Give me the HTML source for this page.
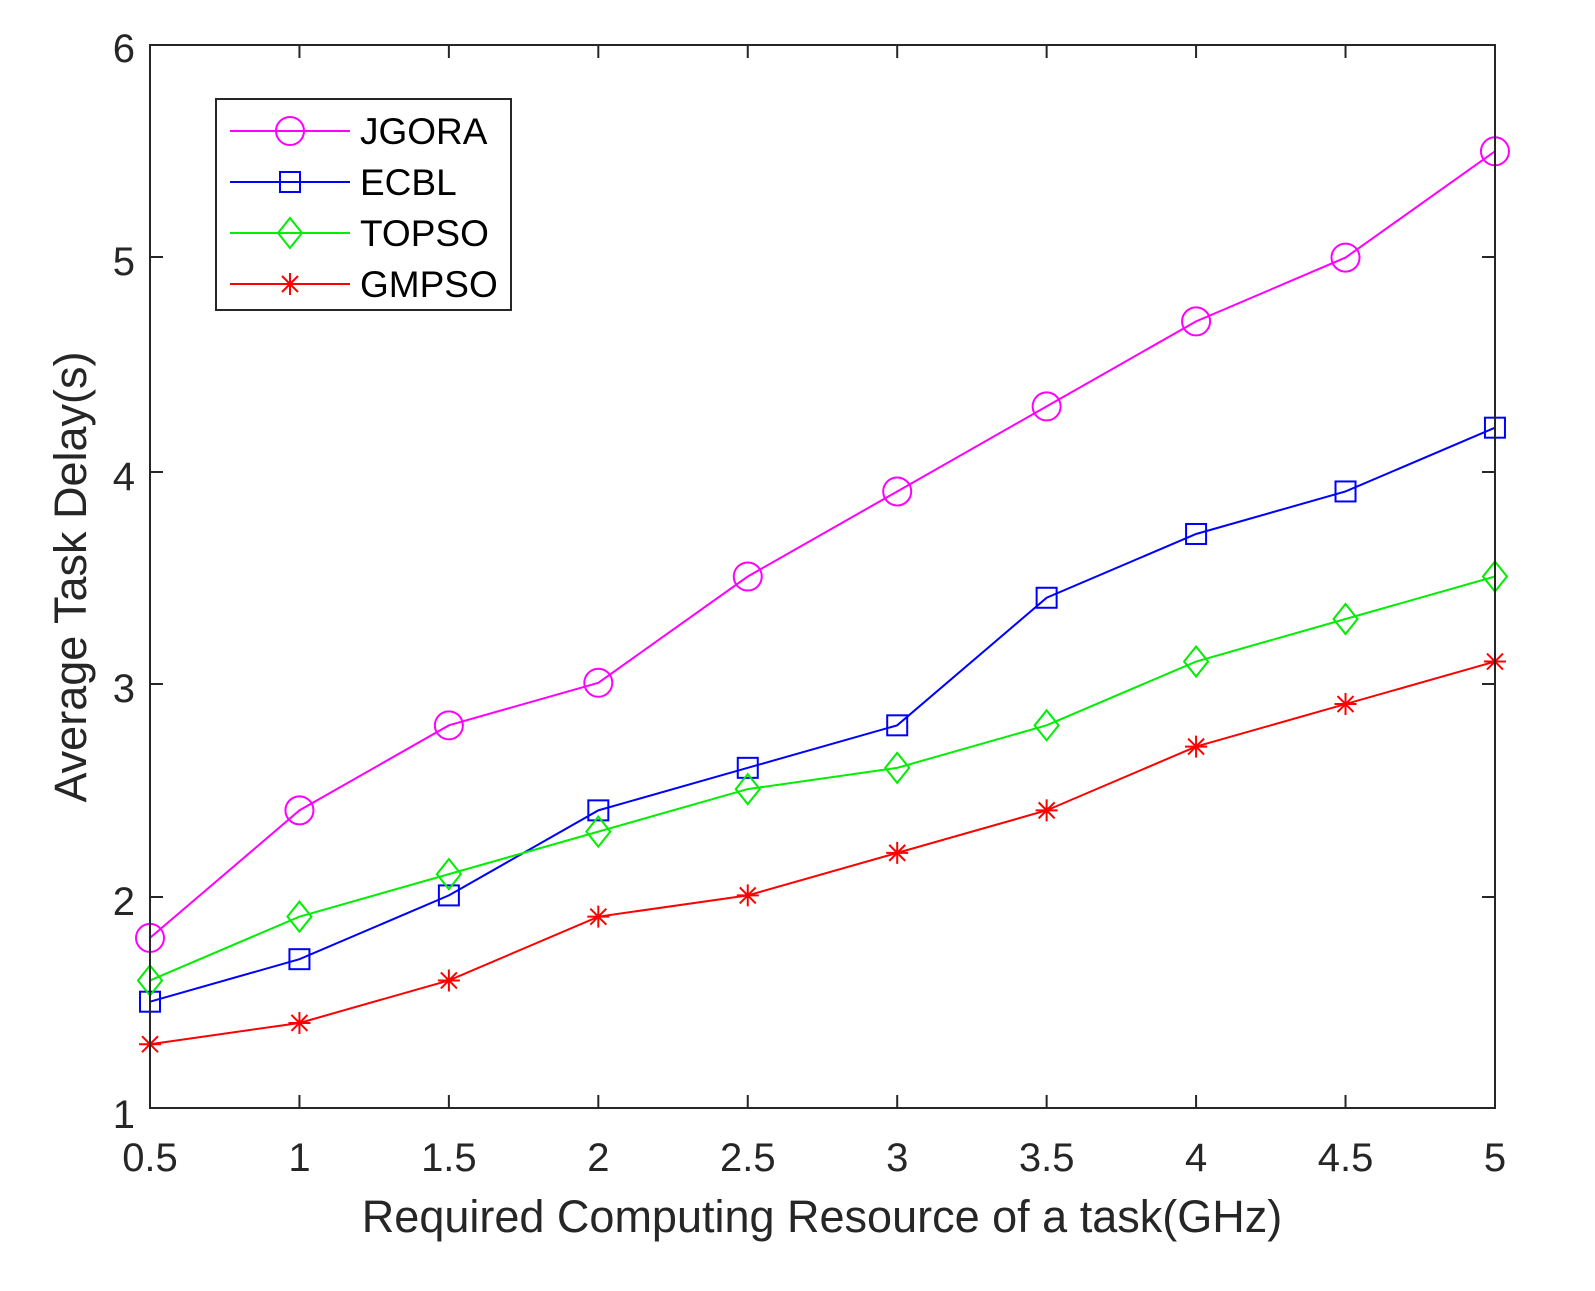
<!DOCTYPE html>
<html><head><meta charset="utf-8"><style>body{margin:0;background:#fff}svg{display:block}</style></head><body>
<svg width="1595" height="1291" xmlns="http://www.w3.org/2000/svg" font-family="Liberation Sans, sans-serif">
<rect width="1595" height="1291" fill="#fff"/>
<g id="plot"></g>
<rect x="150" y="45" width="1345" height="1063" fill="none" stroke="#262626" stroke-width="2"/>
<g stroke="#262626" stroke-width="2">
<line x1="150" y1="897" x2="163" y2="897"/><line x1="150" y1="684" x2="163" y2="684"/><line x1="150" y1="472" x2="163" y2="472"/><line x1="150" y1="257" x2="163" y2="257"/>
<line x1="1495" y1="897" x2="1482" y2="897"/><line x1="1495" y1="684" x2="1482" y2="684"/><line x1="1495" y1="472" x2="1482" y2="472"/><line x1="1495" y1="257" x2="1482" y2="257"/>
</g>
<g font-size="40" fill="#262626" text-anchor="end">
<text x="135" y="1128">1</text><text x="135" y="915">2</text><text x="135" y="702">3</text><text x="135" y="490">4</text><text x="135" y="275">5</text><text x="135" y="62">6</text>
</g>
<g font-size="40" fill="#262626" text-anchor="middle" id="xt"></g>
<text x="822" y="1232" font-size="45" fill="#262626" text-anchor="middle">Required Computing Resource of a task(GHz)</text>
<text transform="translate(86,577) rotate(-90)" font-size="45" fill="#262626" text-anchor="middle">Average Task Delay(s)</text>
<rect x="216" y="99" width="295" height="211" fill="#fff" stroke="#262626" stroke-width="2"/>
<g id="leg"></g>
<g font-size="37" fill="#000">
<text x="360" y="144">JGORA</text><text x="360" y="195">ECBL</text><text x="360" y="246">TOPSO</text><text x="360" y="297">GMPSO</text>
</g>
<script>
var NS="http://www.w3.org/2000/svg";
function X(i){return 150+i*149.44}
function Y(v){return 1108-(v-1)*212.6}
function el(p,t,a){var e=document.createElementNS(NS,t);for(var k in a)e.setAttribute(k,a[k]);p.appendChild(e);return e}
var xt=document.getElementById('xt');
var labs=["0.5","1","1.5","2","2.5","3","3.5","4","4.5","5"];
var root=document.querySelector('svg');
for(var i=0;i<10;i++){var t=el(xt,'text',{x:X(i),y:1171});t.textContent=labs[i];
if(i>0&&i<9){el(root,'line',{x1:X(i),y1:1108,x2:X(i),y2:1095,stroke:'#262626','stroke-width':2});el(root,'line',{x1:X(i),y1:45,x2:X(i),y2:58,stroke:'#262626','stroke-width':2});}}
var S=[["#ff00ff","o",[1.8,2.4,2.8,3.0,3.5,3.9,4.3,4.7,5.0,5.5]],
["#0000ff","s",[1.5,1.7,2.0,2.4,2.6,2.8,3.4,3.7,3.9,4.2]],
["#00ee00","d",[1.6,1.9,2.1,2.3,2.5,2.6,2.8,3.1,3.3,3.5]],
["#ff0000","*",[1.3,1.4,1.6,1.9,2.0,2.2,2.4,2.7,2.9,3.1]]];
var plot=document.getElementById('plot'),leg=document.getElementById('leg');
function mk(g,m,x,y,c){var a={fill:'none',stroke:c,'stroke-width':2};
if(m=='o'){a.cx=x;a.cy=y;a.r=14;el(g,'circle',a)}
else if(m=='s'){a.x=x-10;a.y=y-10;a.width=20;a.height=20;el(g,'rect',a)}
else if(m=='d'){a.points=(x)+','+(y-15)+' '+(x+12)+','+y+' '+x+','+(y+15)+' '+(x-12)+','+y;el(g,'polygon',a)}
else{var d='M'+(x-11)+' '+y+'H'+(x+11)+'M'+x+' '+(y-11)+'V'+(y+11)+'M'+(x-8)+' '+(y-8)+'L'+(x+8)+' '+(y+8)+'M'+(x-8)+' '+(y+8)+'L'+(x+8)+' '+(y-8);a.d=d;el(g,'path',a)}}
S.forEach(function(s,k){var pts=s[2].map(function(v,i){return X(i)+','+Y(v)}).join(' ');
el(plot,'polyline',{points:pts,fill:'none',stroke:s[0],'stroke-width':2});
s[2].forEach(function(v,i){mk(plot,s[1],X(i),Y(v),s[0])});
var ly=131+k*51;el(leg,'line',{x1:230,y1:ly,x2:350,y2:ly,stroke:s[0],'stroke-width':2});mk(leg,s[1],290,ly,s[0]);});
</script>
</svg>
</body></html>
